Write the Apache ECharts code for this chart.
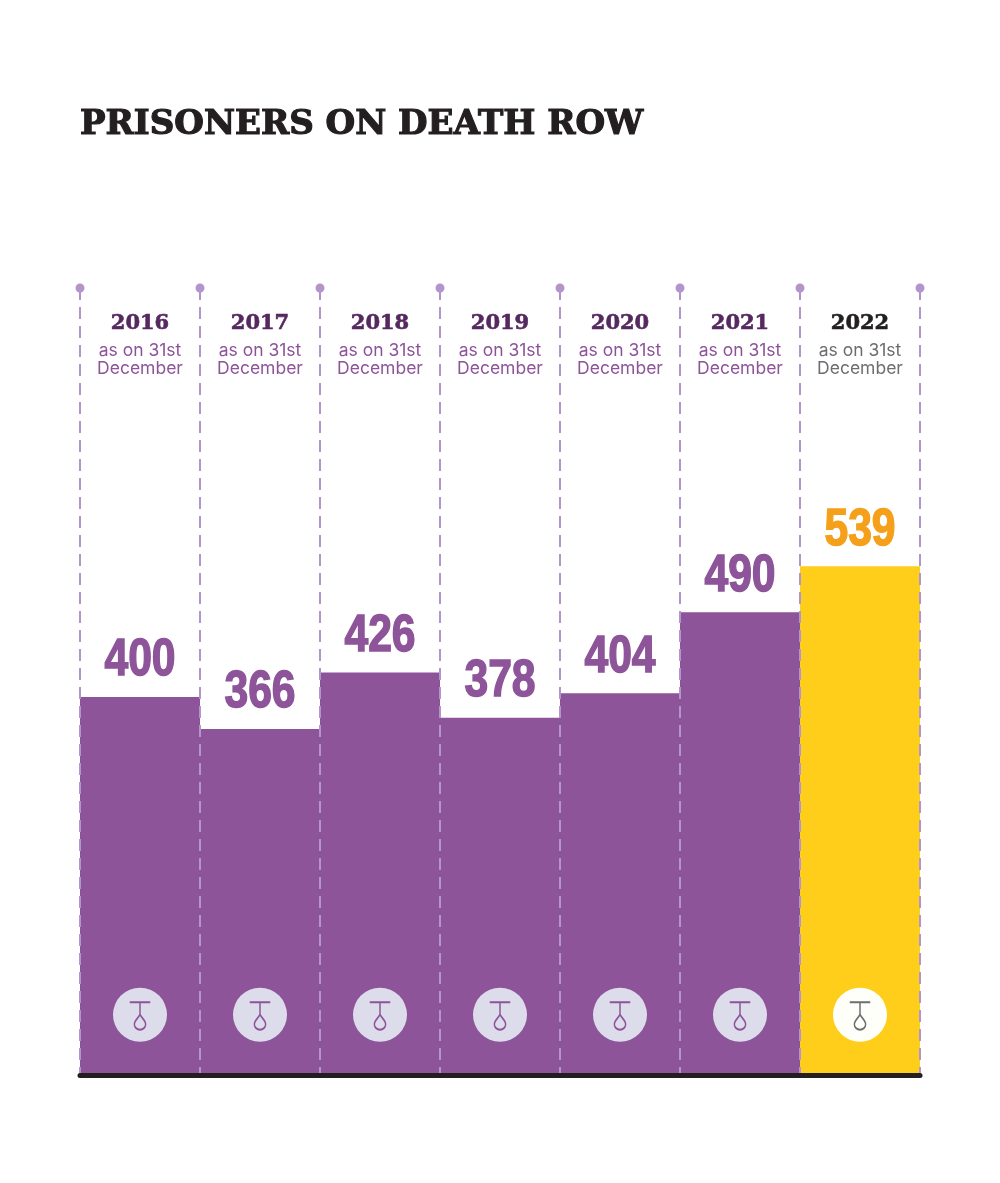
<!DOCTYPE html>
<html>
<head>
<meta charset="utf-8">
<style>html,body{margin:0;padding:0;background:#fff}#main{width:1000px;height:1183px}</style>
<script src="https://cdn.jsdelivr.net/npm/echarts@6/dist/echarts.min.js"></script>
</head>
<body>
<div id="main"></div>
<script>
var years = ['2016', '2017', '2018', '2019', '2020', '2021', '2022'];
var prisoners = [400, 366, 426, 378, 404, 490, 539];
var edges = [0, 1, 2, 3, 4, 5, 6, 7];
var highlightYear = '2022';

var PURPLE = '#8d5499', YELLOW = '#ffce1b', ORANGE = '#f5a01a', DASH = '#b295cc', INK = '#231f20';
var Y_MAX = 835, ICON_LEVEL = 62;
var noose = 'path://M0 0H24M12 0V14.5M12 14.5C10.5 18 5.4 21.5 5.4 25.9A6.6 6.6 0 0 0 18.6 25.9C18.6 21.5 13.5 18 12 14.5Z';

function isHi(i) { return years[i] === highlightYear; }

var chart = echarts.init(document.getElementById('main'), null, { renderer: 'canvas' });
chart.setOption({
	animation: false,
	backgroundColor: '#fff',
	title: {
		text: 'PRISONERS ON DEATH ROW',
		left: 80,
		top: 108,
		padding: 0,
		textStyle: { fontFamily: 'DejaVu Serif', fontWeight: 'bold', fontSize: 34, color: INK, textBorderColor: INK, textBorderWidth: 1.2 }
	},
	grid: { left: 80, right: 80, top: 288, bottom: 110 },
	xAxis: [{
		type: 'category',
		data: years,
		z: 5,
		offset: 2,
		axisLine: { show: true, onZero: false, lineStyle: { color: INK, width: 5, cap: 'round' } },
		axisTick: { show: false },
		axisLabel: { show: false },
		splitLine: { show: true, showMinLine: true, showMaxLine: true, lineStyle: { color: DASH, width: 2, type: [12, 7] } }
	}, {
		type: 'category',
		position: 'top',
		data: years,
		axisLine: { show: false },
		axisTick: { show: false },
		splitLine: { show: false },
		axisLabel: {
			inside: true,
			margin: 18,
			interval: 0,
			verticalAlign: 'top',
			formatter: function(v) {
				var s = v === highlightYear ? 'h' : 'n';
				return '{' + s + 'y|' + v + '}\n{' + s + 's|as on 31st}\n{' + s + 's|December}';
			},
			rich: {
				ny: { fontFamily: 'DejaVu Serif', fontWeight: 'bold', fontSize: 21, color: '#55295f', lineHeight: 36, textBorderColor: '#55295f', textBorderWidth: 0.6 },
				hy: { fontFamily: 'DejaVu Serif', fontWeight: 'bold', fontSize: 21, color: INK, lineHeight: 36, textBorderColor: INK, textBorderWidth: 0.6 },
				ns: { fontFamily: 'Inter', fontSize: 17.5, color: PURPLE, lineHeight: 18 },
				hs: { fontFamily: 'Inter', fontSize: 17.5, color: '#6d6e71', lineHeight: 18 }
			}
		}
	}, {
		type: 'value',
		show: false,
		min: 0,
		max: 7
	}],
	yAxis: { type: 'value', show: false, min: 0, max: Y_MAX },
	series: [{
		type: 'bar',
		barWidth: '100%',
		z: 2,
		data: prisoners.map(function(v, i) {
			return { value: v, itemStyle: { color: isHi(i) ? YELLOW : PURPLE } };
		})
	}, {
		// condensed value labels: no narrow face is installed, so squeeze a bold one
		type: 'custom',
		z: 4,
		silent: true,
		encode: { x: 0, y: 1 },
		data: prisoners.map(function(v, i) { return [i, v]; }),
		renderItem: function(params, api) {
			var c = api.coord([api.value(0), api.value(1)]);
			var col = isHi(params.dataIndex) ? ORANGE : PURPLE;
			return {
				type: 'text',
				x: c[0],
				y: c[1] - 36,
				scaleX: 0.82,
				style: {
					text: String(api.value(1)),
					x: 0,
					y: 0,
					font: 'bold 52px "Liberation Sans"',
					textAlign: 'center',
					textVerticalAlign: 'middle',
					fill: col,
					stroke: col,
					lineWidth: 1.5
				}
			};
		}
	}, {
		type: 'scatter',
		z: 6,
		symbol: 'circle',
		symbolSize: 54,
		silent: true,
		data: years.map(function(y, i) {
			return { value: [y, ICON_LEVEL], itemStyle: { color: isHi(i) ? '#fffffa' : '#dcdcea', opacity: 1 } };
		})
	}, {
		type: 'scatter',
		z: 7,
		symbol: noose,
		symbolSize: [20.5, 27.5],
		symbolOffset: [0, 1.3],
		silent: true,
		data: years.map(function(y, i) {
			return {
				value: [y, ICON_LEVEL],
				itemStyle: { color: 'none', borderColor: isHi(i) ? '#6d6e71' : PURPLE, borderWidth: 1.7, opacity: 1 }
			};
		})
	}, {
		type: 'scatter',
		xAxisIndex: 2,
		z: 7,
		symbol: 'circle',
		symbolSize: 9,
		silent: true,
		itemStyle: { color: DASH, opacity: 1 },
		data: edges.map(function(e) { return [e, Y_MAX]; })
	}]
});
</script>
</body>
</html>
